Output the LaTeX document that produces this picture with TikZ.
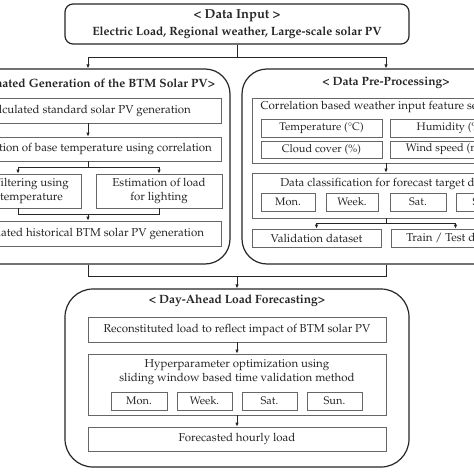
\documentclass[tikz,border=0pt]{standalone}
\usepackage[T1]{fontenc}
\renewcommand{\rmdefault}{ppl}
\usetikzlibrary{arrows.meta}
\begin{document}
\begin{tikzpicture}[x=1pt,y=-1pt,
  bigbox/.style={draw=black!85,line width=1.2pt,rounded corners=25pt,inner sep=0pt},
  inbox/.style={draw=black!60,line width=0.7pt,inner sep=0pt,align=center,text=black!85,
    font=\fontsize{11.5}{14}\selectfont},
  smbox/.style={draw=black!60,line width=0.7pt,inner sep=0pt,text=black!85,
    font=\fontsize{11}{13}\selectfont},
  lbl/.style={inner sep=0pt,align=center,text=black!85,font=\fontsize{11.5}{14}\selectfont},
  ttl/.style={inner sep=0pt,align=center,text=black!85,font=\fontsize{12}{14}\selectfont\bfseries},
  con/.style={draw=black!85,line width=0.8pt},
  arr/.style={con,-{Latex[length=4pt,width=3.5pt]}}]
\useasboundingbox (0,0) rectangle (474,474);
\fill[white] (0,0) rectangle (474,474);
\clip (0,0) rectangle (474,474);
% top input
\node[bigbox,rounded corners=8pt,minimum width=344pt,minimum height=40pt] (in) at (237,24) {};
\node[ttl,font=\fontsize{13}{15}\selectfont\bfseries] (int) at (237,16) {< Data Input >};
\node[ttl] (ins) at (237,32.5) {Electric Load, Regional weather, Large-scale solar PV};
% big boxes
\node[bigbox,minimum width=284pt,minimum height=195pt] (lbig) at (88,166.5) {};
\node[bigbox,minimum width=288pt,minimum height=195pt] (rbig) at (386,166.5) {};
\node[bigbox,rounded corners=28pt,minimum width=344pt,minimum height=178pt] (bot) at (237,378) {};
\node[ttl] (lt) at (88,83) {< Estimated Generation of the BTM Solar PV>};
\node[ttl] (rt) at (386,83) {< Data Pre-Processing>};
\node[ttl] (bt) at (237,301) {< Day-Ahead Load Forecasting>};
% left inner
\node[inbox,minimum width=266pt,minimum height=25pt] (b1) at (88,110.5) {Calculated standard solar PV generation};
\node[inbox,minimum width=266pt,minimum height=24pt] (b2) at (88,149) {Estimation of base temperature using correlation};
\node[inbox,minimum width=126pt,minimum height=34pt] (filt) at (18,191) {};
\node[lbl] (filtt) at (31.5,191) {Filtering using\\temperature};
\node[inbox,minimum width=126pt,minimum height=34pt] (est) at (159,191) {Estimation of load\\for lighting};
\node[inbox,minimum width=266pt,minimum height=25pt] (b4) at (88,233.5) {Estimated historical BTM solar PV generation};
% right inner
\node[inbox,minimum width=268pt,minimum height=65pt] (corr) at (386,130.5) {};
\node[lbl] (corrt) at (386,107) {Correlation based weather input feature selection};
\node[smbox,minimum width=121pt,minimum height=18pt] (temp) at (321.5,128) {Temperature (\textdegree C)};
\node[smbox,minimum width=121pt,minimum height=18pt] (hum) at (450.5,128) {Humidity (\%)};
\node[smbox,minimum width=121pt,minimum height=17pt] (cloud) at (321.5,149.5) {Cloud cover (\%)};
\node[smbox,minimum width=121pt,minimum height=17pt] (wind) at (450.5,149.5) {Wind speed (m/s)};
\node[inbox,minimum width=268pt,minimum height=45pt] (cls) at (386,195.5) {};
\node[lbl] (clst) at (386,184) {Data classification for forecast target days};
\node[smbox,minimum width=54pt,minimum height=18pt] (mon) at (288,202) {Mon.};
\node[smbox,minimum width=52pt,minimum height=18pt] (week) at (352,202) {Week.};
\node[smbox,minimum width=56pt,minimum height=18pt] (sat) at (418,202) {Sat.};
\node[smbox,minimum width=55pt,minimum height=18pt] (sun) at (483.5,202) {Sun.};
\node[inbox,minimum width=129pt,minimum height=18pt] (val) at (316.5,238) {Validation dataset};
\node[inbox,minimum width=129pt,minimum height=18pt] (train) at (455.5,238) {Train / Test dataset};
% bottom inner
\node[inbox,minimum width=298pt,minimum height=25pt] (recon) at (237,329.5) {Reconstituted load to reflect impact of BTM solar PV};
\node[inbox,minimum width=298pt,minimum height=61pt] (hyper) at (237,384.5) {};
\node[lbl] (hypt) at (237,372) {Hyperparameter optimization using\\sliding window based time validation method};
\node[smbox,minimum width=56pt,minimum height=18pt] (m2) at (139,401) {Mon.};
\node[smbox,minimum width=55pt,minimum height=18pt] (w2) at (204.5,401) {Week.};
\node[smbox,minimum width=55pt,minimum height=18pt] (s2) at (269.5,401) {Sat.};
\node[smbox,minimum width=55pt,minimum height=18pt] (su2) at (334.5,401) {Sun.};
\node[inbox,minimum width=298pt,minimum height=24pt] (fc) at (237,439) {Forecasted hourly load};
% connectors
\coordinate (s1) at (237,57);
\draw[con] (in.south) -- (s1);
\draw[arr] (s1) -| (lbig.north);
\draw[arr] (s1) -| (rbig.north);
\draw[arr] (b1) -- (b2);
\coordinate (s2) at (88,167);
\draw[con] (b2.south) -- (s2);
\draw[arr] (s2) -| (filt.north);
\draw[arr] (s2) -| (est.north);
\coordinate (m1) at (88,214);
\draw[con] (filt.south) |- (m1);
\draw[con] (est.south) |- (m1);
\draw[arr] (m1) -- (b4.north);
\draw[arr] (corr.south) -- (cls.north);
\coordinate (s3) at (386,223);
\draw[con] (cls.south) -- (s3);
\draw[arr] (s3) -| (val.north);
\draw[arr] (s3) -| (train.north);
\coordinate (m2) at (237,276);
\draw[con] (lbig.south) |- (m2);
\draw[con] (rbig.south) |- (m2);
\draw[arr] (m2) -- (bot.north);
\draw[arr] (recon) -- (hyper);
\draw[arr] (hyper) -- (fc);
\end{tikzpicture}
\end{document}
